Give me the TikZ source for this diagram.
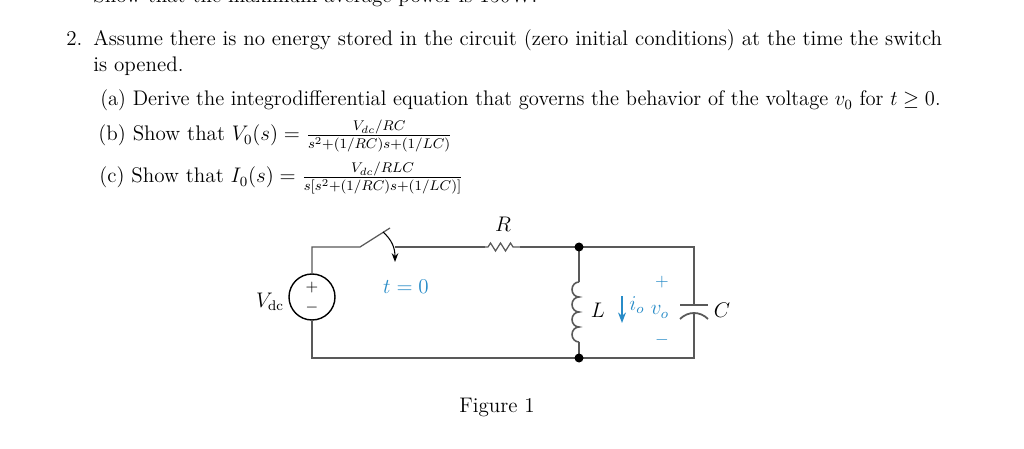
\documentclass[tikz,border=0pt]{standalone}
\usepackage{amsmath,amssymb}
\usetikzlibrary{arrows.meta}
\definecolor{cblue}{RGB}{40,140,200}
\begin{document}
\begin{tikzpicture}[x=0.02cm,y=-0.02cm,
  txt/.style={anchor=base west,inner sep=0pt,font=\large},
  wire/.style={line width=0.7pt,gray!70!black},
  lab/.style={inner sep=0pt,font=\large\itshape}]
\clip (0,0) rectangle (1024,449);
\fill[white] (0,0) rectangle (1024,449);
% text
\node[txt] (l0) at (93,3) {Show that the maximum average power is 150W.};
\node[txt] (n2) at (66,46) {2.};
\node[txt] (l1) at (93,46) {Assume there is no energy stored in the circuit (zero initial conditions) at the time the switch};
\node[txt] (l2) at (93,72) {is opened.};
\node[txt,xscale=0.975] (la) at (100,106) {(a)\ Derive the integrodifferential equation that governs the behavior of the voltage $v_0$ for $t \geq 0$.};
\node[txt] (lb) at (98,141) {(b)\ Show that $V_0(s) = \frac{V_{dc}/RC}{s^2+(1/RC)s+(1/LC)}$};
\node[txt] (lc) at (99,183) {(c)\ Show that $I_0(s) = \frac{V_{dc}/RLC}{s[s^2+(1/RC)s+(1/LC)]}$};
% circuit
\coordinate (tl) at (312,247);
\coordinate (bl) at (312,358);
\coordinate (sw1) at (360,247);
\coordinate (sw2) at (395,247);
\coordinate (r1) at (485,247);
\coordinate (r2) at (520,247);
\coordinate (n1) at (579,247);
\coordinate (n2b) at (579,358);
\coordinate (tr) at (694,247);
\coordinate (br) at (694,358);
\coordinate (l1a) at (579,282);
\coordinate (l1b) at (579,342);
\coordinate (cp1) at (694,305);
\coordinate (cp2) at (694,313);
\node[circle,draw,line width=0.8pt,minimum size=46*0.02cm,inner sep=0pt] (src) at (312,297) {};
\node[font=\small] (pl) at (312,288) {$+$};
\node[font=\small] (mi) at (312,308) {$-$};
\draw[wire] (src.north) -- (tl) -- (sw1) -- (390,228);
\draw[wire] (sw2) -- (r1);
\draw[wire] (r1) -- ++(3,0) -- ++(2.5,-4) -- ++(5,8) -- ++(5,-8) -- ++(5,8) -- ++(5,-8) -- ++(2.5,4) -- (r2);
\draw[wire] (r2) -- (n1) -- (tr) -- (cp1);
\draw[wire] (src.south) -- (bl) -- (n2b) -- (br) -- (cp2);
\draw[wire] (n1) -- (l1a);
\draw[wire,line width=0.9pt] (l1a) \foreach \k in {1,...,4} { arc (90:-90:-7 and -7.5) };
\draw[wire] (l1b) -- (n2b);
\draw[wire,line width=1pt] (680,305) -- (708,305);
\draw[wire,line width=1pt] (680,319) .. controls (688,311) and (700,311) .. (708,319);
\draw[-{Stealth[length=5pt]},line width=0.6pt] (383,232) .. controls (392,240) and (395,248) .. (395,262);
\fill (n1) circle (4.5*0.02cm);
\fill (n2b) circle (4.5*0.02cm);
\draw[cblue,-{Stealth[length=6pt]},line width=0.7pt] (622,296) -- (622,323);
\node[lab] (Rl) at (503,224) {$R$};
\node[inner sep=0pt,font=\large,text=cblue] (t0) at (406,287) {$t=0$};
\node[inner sep=0pt,font=\large] (Vl) at (270,302) {$V_{\mathrm{dc}}$};
\node[inner sep=0pt,font=\large] (Ll) at (598,310) {$L$};
\node[inner sep=0pt,font=\large,text=cblue] (io) at (637,305) {$i_o$};
\node[inner sep=0pt,font=\large,text=cblue] (vo) at (660,312) {$v_o$};
\node[inner sep=0pt,text=cblue] (vp) at (662,282) {$+$};
\node[inner sep=0pt,text=cblue] (vm) at (662,340) {$-$};
\node[inner sep=0pt,font=\large] (Cl) at (722,310) {$C$};
\node[inner sep=0pt,font=\large] (fig) at (497,407) {Figure 1};
\end{tikzpicture}
\end{document}
